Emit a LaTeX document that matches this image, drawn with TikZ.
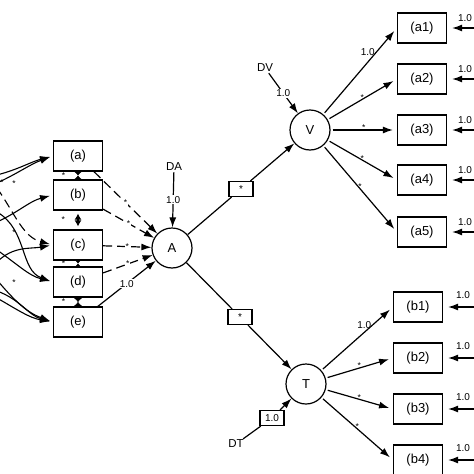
\documentclass[tikz,border=0pt]{standalone}
\usepackage{fontspec}
\setmainfont{Liberation Sans}
\usetikzlibrary{arrows.meta}

\begin{document}
\begin{tikzpicture}[x=1pt,y=-1pt,
    obs/.style={draw,line width=1.2pt,minimum width=49pt,minimum height=30pt,inner sep=0pt,font=\fontsize{13}{15}\selectfont},
    lat/.style={draw,circle,line width=1.2pt,minimum size=40pt,inner sep=0pt,font=\fontsize{13}{15}\selectfont},
    par/.style={draw,line width=1.1pt,minimum width=24pt,minimum height=15pt,inner sep=0pt,font=\fontsize{10}{11}\selectfont},
    txt/.style={font=\fontsize{11.5}{13}\selectfont,inner sep=1pt},
    lbl/.style={font=\fontsize{10}{11}\selectfont,inner sep=1pt,fill=white},
    st/.style={font=\fontsize{8.5}{9}\selectfont,inner sep=0.5pt},
    arr/.style={line width=1.2pt,-{Latex[length=10pt,width=7pt]}},
    cov/.style={line width=1.1pt,-{Latex[length=10pt,width=7pt]},shorten >=3pt},
    half/.style={-{Latex[length=4pt,width=8pt]}},
    dia/.style={line width=1.1pt,{Latex[length=6pt,width=7pt]}-{Latex[length=6pt,width=7pt]},shorten <=3pt,shorten >=3pt},
    dsh/.style={dash pattern=on 9pt off 5pt}]
    \useasboundingbox (0,0) rectangle (474,474);
    \clip (0,0) rectangle (474,474);

    % indicators on the left
    \node[obs] (a) at (78,156) {(a)};
    \node[obs] (b) at (78,195) {(b)};
    \node[obs] (c) at (78,245) {(c)};
    \node[obs] (d) at (78,282) {(d)};
    \node[obs] (e) at (78,322) {(e)};

    % latent variables
    \node[lat] (A) at (172,248) {A};
    \node[lat] (V) at (310,130) {V};
    \node[lat] (T) at (306,384) {T};

    \node[par] (pv) at (241,189) {*};
    \node[par] (pt) at (240,317) {*};
    \node[par] (pdt) at (272,418) {1.0};

    \node[txt] (DA) at (174,167) {DA};
    \node[txt] (DV) at (265,68) {DV};
    \node[txt] (DT) at (236,444) {DT};

    % indicators on the right
    \foreach \i/\y in {1/28,2/79,3/130,4/180,5/232} {
        \node[obs] (a\i) at (422,\y) {(a\i)};
        \coordinate (ea\i) at (485,\y);
        \draw[arr,shorten >=5pt] (ea\i) -- (a\i.east);
        \node[lbl,fill=none] (la\i) at (465,\y-10) {1.0};
    }
    \foreach \i/\y in {1/307,2/358,3/409,4/460} {
        \node[obs] (b\i) at (418,\y) {(b\i)};
        \coordinate (eb\i) at (485,\y);
        \draw[arr,shorten >=5pt] (eb\i) -- (b\i.east);
        \node[lbl,fill=none] (lb\i) at (463,\y-12) {1.0};
    }

    % paths into A
    \draw[arr,dsh] (a) -- node[lbl,st]{*} (A);
    \draw[arr,dsh] (b) -- node[lbl,st]{*} (A);
    \draw[arr,dsh] (c) -- node[lbl,st]{*} (A);
    \draw[arr,dsh] (d) -- node[lbl,st]{*} (A);
    \draw[arr] (e) -- node[lbl]{1.0} (A);
    \draw[arr] (DA) -- node[lbl]{1.0} (A);

    \draw[line width=1.2pt] (A) -- (pv);
    \draw[arr] (pv) -- (V);
    \draw[line width=1.2pt] (A) -- (pt);
    \draw[arr] (pt) -- (T);
    \draw[arr] (DV) -- node[lbl]{1.0} (V);
    \draw[line width=1.2pt] (DT) -- (pdt);
    \draw[arr] (pdt) -- (T);

    \draw[arr,shorten <=2pt,shorten >=4pt] (V) -- node[lbl,fill=none,pos=.72,left]{1.0} (a1.west);
    \foreach \i in {2,...,5}
        \draw[arr,shorten <=2pt,shorten >=4pt] (V) -- node[st,pos=.5,yshift=2pt]{*} (a\i.west);
    \draw[arr,shorten <=2pt,shorten >=4pt] (T) -- node[lbl,fill=none,pos=.72,left]{1.0} (b1.west);
    \foreach \i in {2,...,4}
        \draw[arr,shorten <=2pt,shorten >=4pt] (T) -- node[st,pos=.5,yshift=2pt]{*} (b\i.west);

    % covariances between neighbouring indicators
    \path (a) -- coordinate[midway] (ab) node[st,midway,left=12pt]{*} (b);
    \path (c) -- coordinate[midway] (cd) node[st,midway,left=12pt]{*} (d);
    \path (d) -- coordinate[midway] (de) node[st,midway,left=12pt]{*} (e);
    \draw[half] (a.south) -- (ab);
    \draw[half] (b.north) -- (ab);
    \draw[half] (c.south) -- (cd);
    \draw[half] (d.north) -- (cd);
    \draw[half] (d.south) -- (de);
    \draw[half] (e.north) -- (de);
    \draw[dia] (b) -- node[st,left=12pt]{*} (c);

    % arcs coming in from the left edge
    \coordinate (l1) at (-3,175);
    \coordinate (l2) at (-3,183);
    \coordinate (l3) at (-3,188);
    \coordinate (l4) at (-3,222);
    \coordinate (l5) at (-3,212);
    \coordinate (l6) at (-3,262);
    \coordinate (l7) at (-3,250);
    \coordinate (l8) at (-3,291);
    \coordinate (l9) at (-3,298);
    \coordinate (l10) at (-3,280);
    \draw[cov] (l1) to[out=15,in=195] (a.west);
    \draw[cov] (l2) to[out=25,in=200] (a.west);
    \draw[cov,dsh] (l3) to[out=-55,in=165] (c.west);
    \draw[cov] (l4) to[out=25,in=195] (b.west);
    \draw[cov] (l5) to[out=-30,in=160] (d.west);
    \draw[cov] (l6) to[out=45,in=190] (c.west);
    \draw[cov] (l7) to[out=-35,in=165] (d.west);
    \draw[cov] (l8) to[out=-20,in=165] (e.west);
    \draw[cov] (l9) to[out=-30,in=170] (e.west);
    \draw[cov] (l10) to[out=-50,in=160] (e.west);
    \node[st] (s1) at (2,183) {*};
    \node[st] (s2) at (14,184) {*};
    \node[st] (s3) at (14,233) {*};
    \node[st] (s4) at (14,283) {*};
\end{tikzpicture}
\end{document}
